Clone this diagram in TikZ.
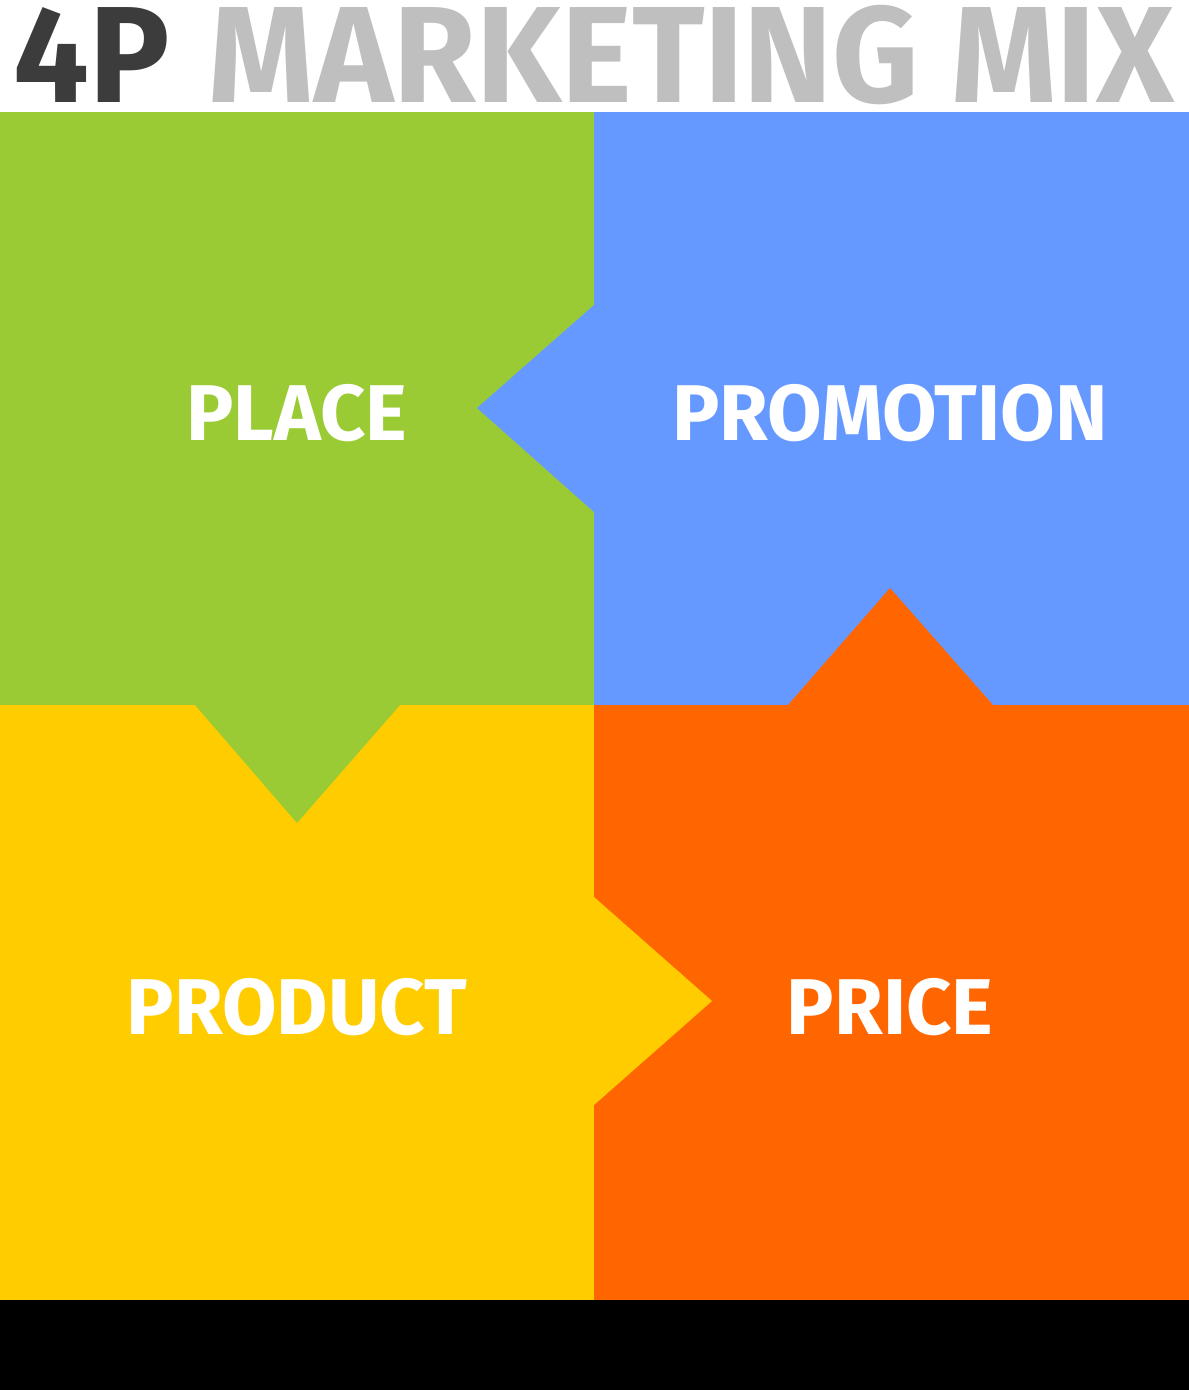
\documentclass[tikz,border=0pt]{standalone}
\usepackage{fontspec}
\setmainfont{Fira Sans}
\definecolor{placegreen}{HTML}{9BCB34}
\definecolor{promoblue}{HTML}{6699FF}
\definecolor{prodyellow}{HTML}{FFCC00}
\definecolor{priceorange}{HTML}{FF6600}
\definecolor{titledark}{HTML}{3C3C3C}
\definecolor{titlelight}{HTML}{BFBFBF}
\tikzset{
  plabel/.style={text=white, font=\fontsize{45}{45}\selectfont\bfseries, inner sep=0pt, anchor=base}
}
\begin{document}
\begin{tikzpicture}[x=0.02cm, y=-0.02cm]
\useasboundingbox[fill=white] (0,0) rectangle (1189,1390);
% title
\node[inner sep=0pt, anchor=base, font=\fontsize{78}{78}\selectfont\bfseries] (title) at (594,102)
  {\scalebox{0.98}[1]{\textcolor{titledark}{4P}\hspace{0.05em} \textcolor{titlelight}{MARKETING MIX}}};
% quadrants
\fill[placegreen] (0,112) rectangle (594,705);
\fill[promoblue] (594,112) rectangle (1189,705);
\fill[prodyellow] (0,705) rectangle (594,1300);
\fill[priceorange] (594,705) rectangle (1189,1300);
% tabs
\fill[promoblue] (594,305) -- (477,408) -- (594,512) -- cycle;
\fill[placegreen] (195,705) -- (297,823) -- (400,705) -- cycle;
\fill[priceorange] (788,705) -- (890,588) -- (993,705) -- cycle;
\fill[prodyellow] (594,897) -- (712,1001) -- (594,1105) -- cycle;
% labels
\node[plabel] (place) at (297,440) {PLACE};
\node[plabel] (promo) at (890,440) {PROMOTION};
\node[plabel] (prod) at (297,1034) {PRODUCT};
\node[plabel] (price) at (890,1034) {PRICE};
% bottom bar
\fill[black] (0,1300) rectangle (1189,1390);
\end{tikzpicture}
\end{document}
